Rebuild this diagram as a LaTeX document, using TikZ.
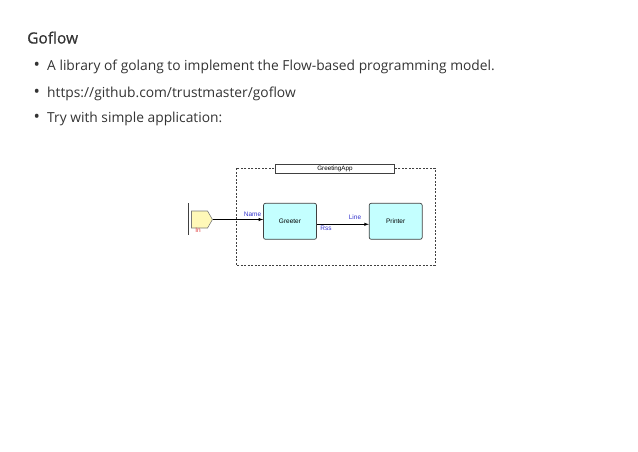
\documentclass[tikz,border=0pt]{standalone}
\usepackage{fontspec}
\setmainfont{Open Sans}
\newfontfamily\titlefont[FakeBold=0.6]{Open Sans}
\newfontfamily\diagfont{Liberation Sans}
\usetikzlibrary{arrows,positioning,shapes.symbols}

\definecolor{slidetext}{HTML}{333333}
\definecolor{procfill}{HTML}{C4FFFF}
\definecolor{portfill}{HTML}{FFF8B8}
\definecolor{portname}{HTML}{3333CC}
\definecolor{inname}{HTML}{E03C3C}
\definecolor{edge}{HTML}{404040}

\newcommand{\slidebullet}{\makebox[13.5pt][l]{\raisebox{0.2pt}{\fontsize{17}{17}\selectfont\textbullet}}}

\begin{document}
\begin{tikzpicture}[x=1pt,y=-1pt,
  proc/.style={draw=edge, line width=0.7pt, rounded corners=2pt, fill=procfill,
    minimum width=53pt, minimum height=36pt, inner sep=0pt,
    font=\diagfont\fontsize{6.5}{7}\selectfont},
  portlabel/.style={font=\diagfont\fontsize{6.5}{7}\selectfont, text=portname, inner sep=0pt},
  item/.style={anchor=base west, inner sep=0pt, text=slidetext,
    font=\fontsize{13.8}{16}\selectfont}]

\useasboundingbox (0,0) rectangle (638,451);

% slide text
\node[anchor=base west, inner sep=0pt, text=slidetext, font=\titlefont\fontsize{15.5}{18}\selectfont] (title) at (27,43.5) {Goflow};
\node[item] (b1) at (33.5,70.5) {\slidebullet A library of golang to implement the Flow-based programming model.};
\node[item] (b2) at (33.5,97.5) {\slidebullet https://github.com/trustmaster/goflow};
\node[item] (b3) at (33.5,122.5) {\slidebullet Try with simple application:};

% graph
\draw[edge, line width=0.5pt, dash pattern=on 2pt off 1.5pt] (236,168.3) rectangle (435,265);
\node[draw=edge, line width=0.7pt, fill=white, minimum width=118.6pt, minimum height=9pt, inner sep=0pt,
  font=\diagfont\fontsize{6.3}{7}\selectfont] (app) at (335,168.8) {GreetingApp};

\node[proc] (greeter) at (290,221.3) {Greeter};
\node[proc, right = 52pt of greeter] (printer) {Printer};

\node[signal, signal to=east, signal pointer angle=120, draw=edge!70, line width=0.6pt, fill=portfill,
  minimum width=21pt, minimum height=17pt, inner sep=0pt] (in) at (199.5,219.5) {};
\draw[edge, line width=1pt] (188,203) -- (188,235);

\draw[line width=0.6pt, -latex] (in.east) -- (in.east -| greeter.west);
\draw[line width=0.6pt, -latex] ([yshift=-3pt]greeter.east) -- ([yshift=-3pt]printer.west);

\node[portlabel, text=inname] (inlbl) at (198,230.5) {In};
\node[portlabel] (name) at (252.5,214) {Name};
\node[portlabel] (line) at (355,217.5) {Line};
\node[portlabel] (rss) at (326,228.5) {Rss};
\end{tikzpicture}
\end{document}
